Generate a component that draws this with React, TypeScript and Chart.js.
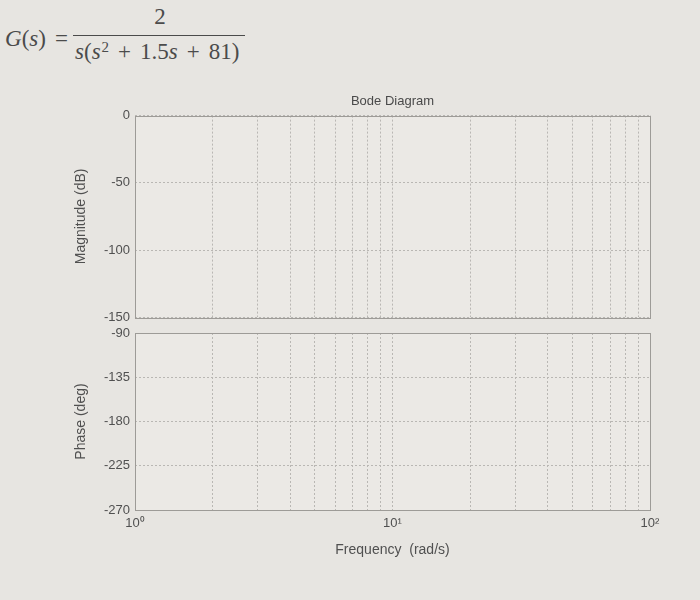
import React, { useEffect, useRef } from "react";
import { Chart, registerables } from "chart.js";

Chart.register(...registerables);

// ---- data ----
const freqTicks = [1, 2, 3, 4, 5, 6, 7, 8, 9, 10, 20, 30, 40, 50, 60, 70, 80, 90, 100];
const decadeLabels: Record<number, string> = { 1: "10⁰", 10: "10¹", 100: "10²" };
const magTicks = [0, -50, -100, -150];
const phaseTicks = [-90, -135, -180, -225, -270];
const magnitudeDb: { x: number; y: number }[] = [];
const phaseDeg: { x: number; y: number }[] = [];

const PAGE_BG = "#e7e5e1";
const PLOT_BG = "#ebe9e5";
const GRID = "#b9b7b3";
const FRAME = "#9d9b97";
const TEXT = "#505050";
const SANS = "'Liberation Sans', Arial, sans-serif";
const SERIF = "'Liberation Serif', 'DejaVu Serif', serif";

const framePlugin = {
  id: "frame",
  beforeDraw(chart: any) {
    const { ctx, chartArea: a } = chart;
    ctx.save();
    ctx.fillStyle = PLOT_BG;
    ctx.fillRect(a.left, a.top, a.width, a.height);
    ctx.restore();
  },
  afterDraw(chart: any) {
    const { ctx, chartArea: a } = chart;
    ctx.save();
    ctx.strokeStyle = FRAME;
    ctx.lineWidth = 1;
    ctx.strokeRect(Math.round(a.left) + 0.5, Math.round(a.top) + 0.5, Math.round(a.width), Math.round(a.height));
    ctx.restore();
  },
};

function xScale(showLabels: boolean, height: number) {
  return {
    type: "logarithmic" as const,
    min: 1,
    max: 100,
    afterBuildTicks: (s: any) => {
      s.ticks = freqTicks.map((v) => ({ value: v }));
    },
    afterFit: (s: any) => {
      s.height = height;
    },
    ticks: {
      display: showLabels,
      autoSkip: false,
      maxRotation: 0,
      padding: 6,
      color: TEXT,
      font: { family: SANS, size: 13 },
      callback: (v: any) => decadeLabels[Number(v)] ?? "",
    },
    grid: { color: GRID, drawTicks: false, lineWidth: 1 },
    border: { display: false, dash: [2, 2] },
    title: {
      display: showLabels,
      text: "Frequency  (rad/s)",
      color: TEXT,
      font: { family: SANS, size: 14 },
      padding: { top: 0, bottom: 41 },
    },
  };
}

function yScale(min: number, max: number, ticks: number[], title: string) {
  return {
    min,
    max,
    afterBuildTicks: (s: any) => {
      s.ticks = ticks.map((v) => ({ value: v }));
    },
    afterFit: (s: any) => {
      s.width = 135;
    },
    ticks: { color: TEXT, padding: 5, font: { family: SANS, size: 13 } },
    grid: { color: GRID, drawTicks: false, lineWidth: 1 },
    border: { display: false, dash: [2, 2] },
    title: {
      display: true,
      text: title,
      color: TEXT,
      font: { family: SANS, size: 14 },
      padding: { top: 73, bottom: 0 },
    },
  };
}

export default function App() {
  const magRef = useRef<HTMLCanvasElement>(null);
  const phRef = useRef<HTMLCanvasElement>(null);

  useEffect(() => {
    const mag = new Chart(magRef.current!, {
      type: "line",
      data: {
        datasets: [{ label: "Magnitude", data: magnitudeDb, borderColor: "#0000ff", pointRadius: 0 }],
      },
      options: {
        responsive: false,
        animation: false,
        layout: { padding: { left: 0, right: 50, top: 0, bottom: 12 } },
        plugins: {
          legend: { display: false },
          tooltip: { enabled: false },
          title: {
            display: true,
            text: "Bode Diagram",
            fullSize: false,
            color: "#4a4a4a",
            font: { family: SANS, size: 13, weight: "normal" },
            padding: { top: 94, bottom: 6 },
          },
        },
        scales: {
          x: xScale(false, 0) as any,
          y: yScale(-150, 0, magTicks, "Magnitude (dB)") as any,
        },
      },
      plugins: [framePlugin],
    });
    const ph = new Chart(phRef.current!, {
      type: "line",
      data: {
        datasets: [{ label: "Phase", data: phaseDeg, borderColor: "#0000ff", pointRadius: 0 }],
      },
      options: {
        responsive: false,
        animation: false,
        layout: { padding: { left: 0, right: 50, top: 33, bottom: 0 } },
        plugins: { legend: { display: false }, tooltip: { enabled: false } },
        scales: {
          x: xScale(true, 90) as any,
          y: yScale(-270, -90, phaseTicks, "Phase (deg)") as any,
        },
      },
      plugins: [framePlugin],
    });
    return () => {
      mag.destroy();
      ph.destroy();
    };
  }, []);

  const fStyle: React.CSSProperties = {
    position: "absolute",
    fontFamily: SERIF,
    fontSize: 23,
    color: "#4b4b4b",
    whiteSpace: "nowrap",
    lineHeight: "23px",
  };
  const op: React.CSSProperties = { margin: "0 9px" };

  return (
    <div style={{ position: "fixed", left: 0, top: 0, width: 700, height: 600, background: PAGE_BG, overflow: "hidden" }}>
      <div style={{ ...fStyle, left: 5, top: 27 }}>
        <i>G</i>(<i>s</i>)<span style={{ marginLeft: 9 }}>=</span>
      </div>
      <div style={{ ...fStyle, left: 150, top: 5, width: 20, textAlign: "center" }}>2</div>
      <div style={{ position: "absolute", left: 73, top: 35, width: 172, height: 1, background: "#4b4b4b" }} />
      <div style={{ ...fStyle, left: 75, top: 36 }}>
        <i>s</i>(<i>s</i>
        <sup style={{ fontSize: 15, verticalAlign: "7px", marginLeft: 1 }}>2</sup>
        <span style={op}>+</span>1.5<i>s</i>
        <span style={op}>+</span>81)
      </div>
      <canvas ref={magRef} width={700} height={330} style={{ position: "absolute", left: 0, top: 0 }} />
      <canvas ref={phRef} width={700} height={300} style={{ position: "absolute", left: 0, top: 300 }} />
    </div>
  );
}
